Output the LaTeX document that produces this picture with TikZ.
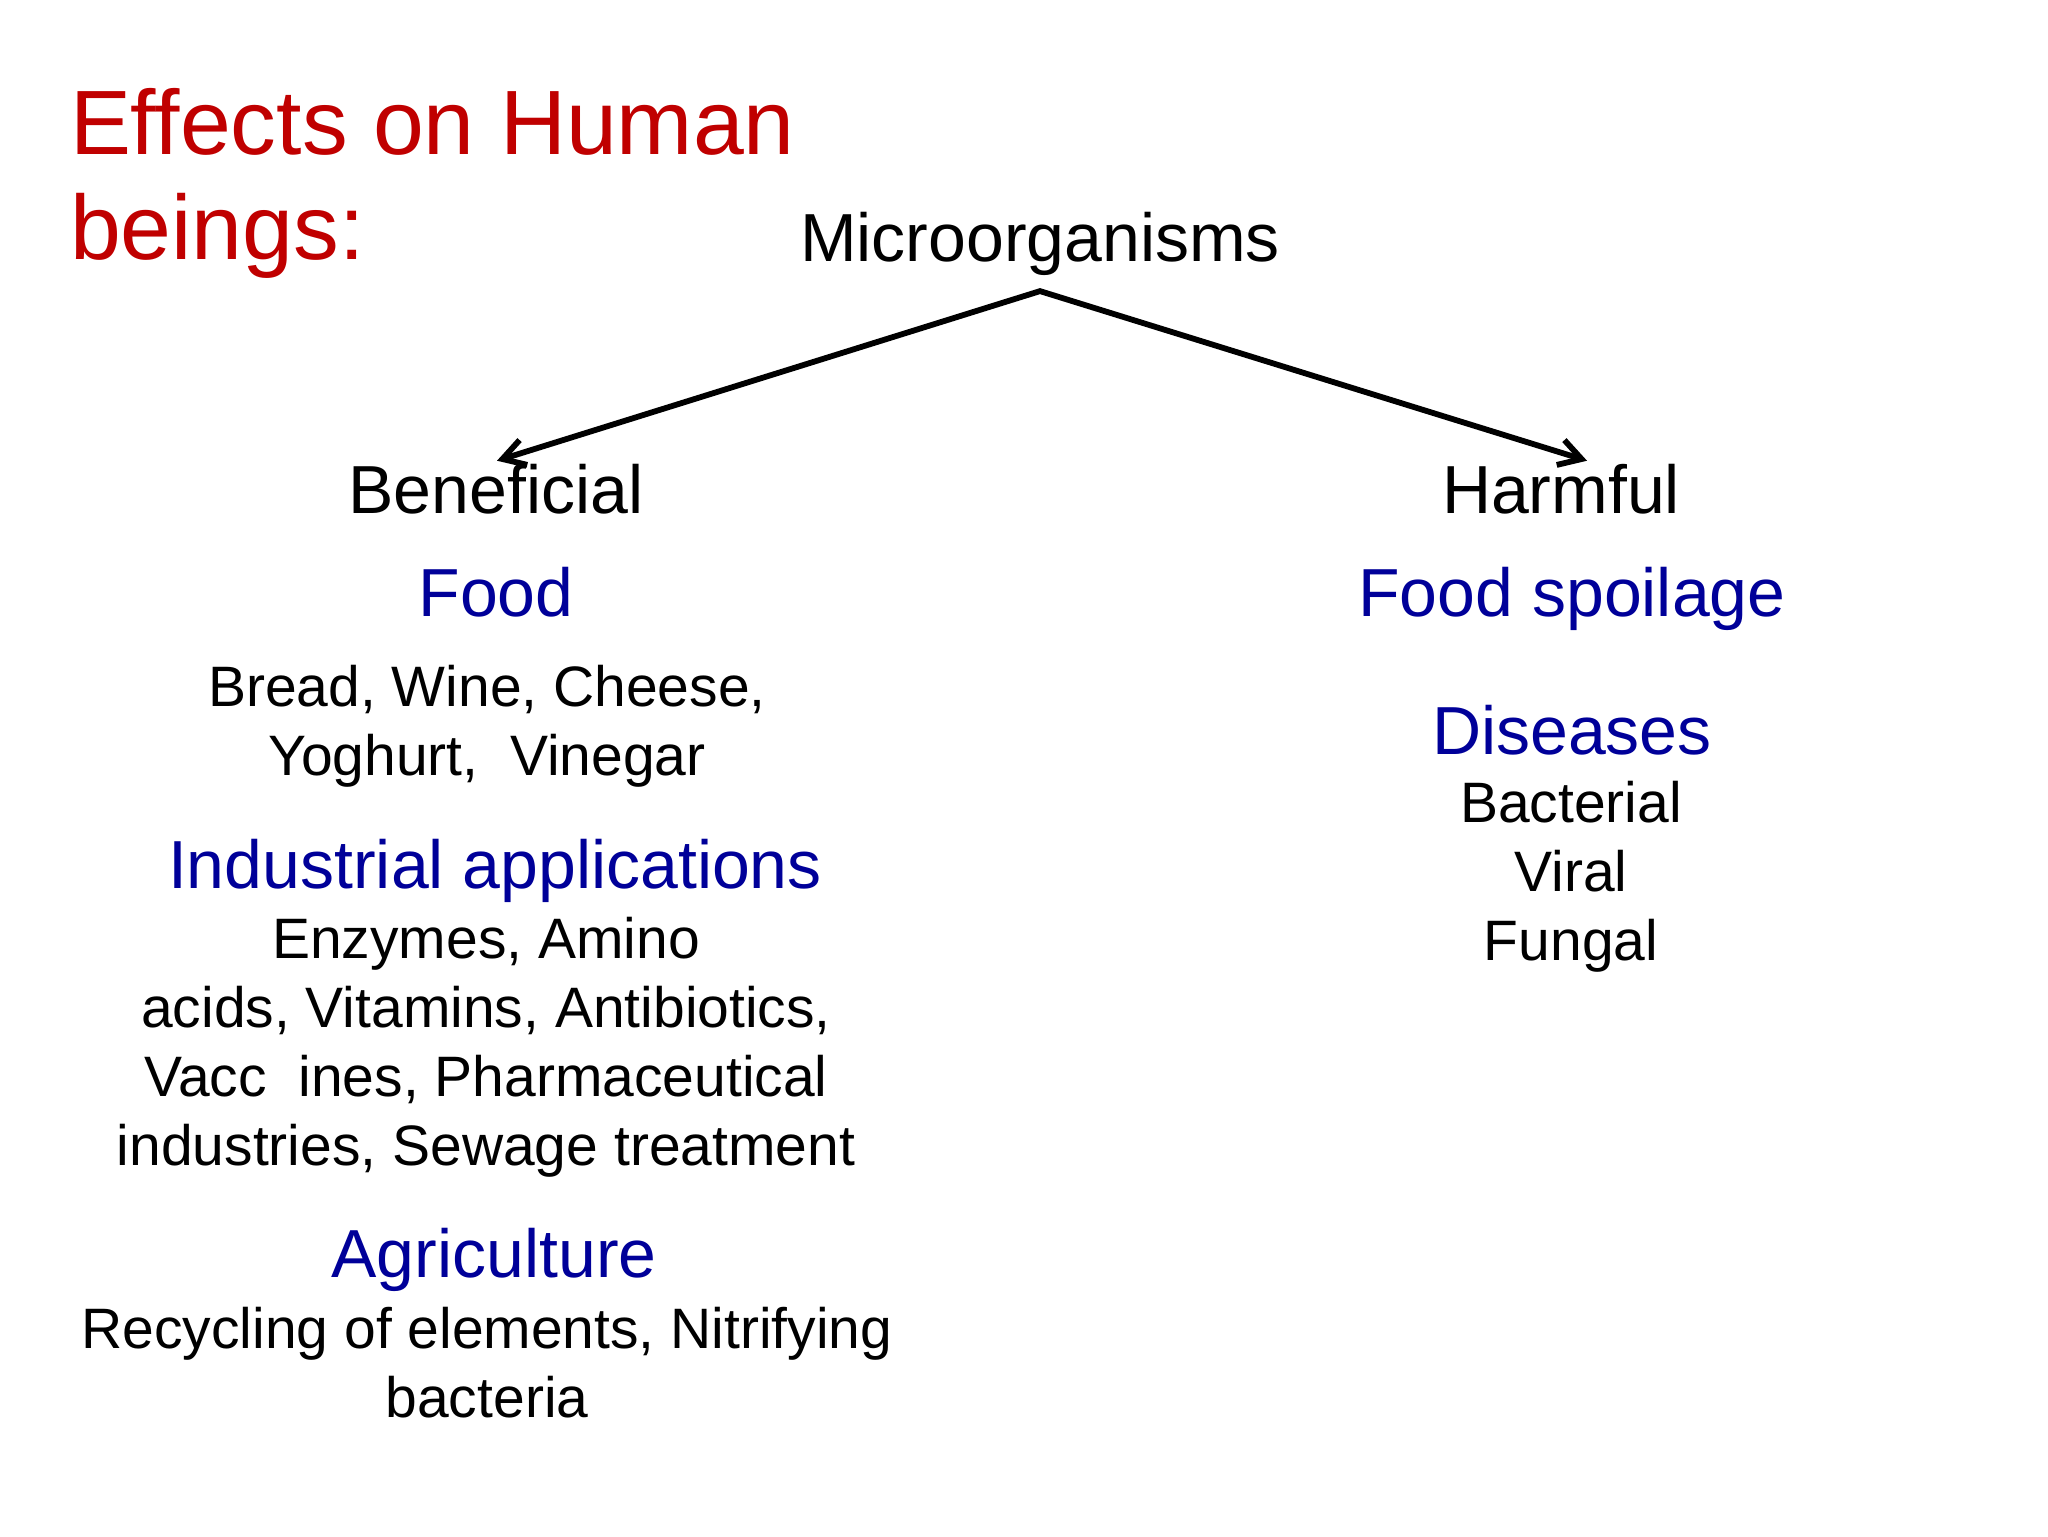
\documentclass[tikz,border=0pt]{standalone}
\usepackage{fontspec}
\setmainfont{Liberation Sans}
\usetikzlibrary{arrows.meta,calc}
\definecolor{titlered}{RGB}{192,0,0}
\definecolor{headblue}{RGB}{0,0,153}
\begin{document}
\begin{tikzpicture}[x=0.5pt,y=-0.5pt,
  every node/.style={inner sep=0pt,outer sep=0pt},
  titletext/.style={font=\fontsize{45.7}{52.5}\selectfont,text=titlered,align=left,anchor=base west},
  toptext/.style={font=\fontsize{34}{40}\selectfont,text=black,anchor=base},
  headtext/.style={font=\fontsize{34}{40}\selectfont,text=headblue,anchor=base},
  bodytext/.style={font=\fontsize{28.5}{34.4}\selectfont,text=black,align=center,anchor=base},
  mybarb/.tip={Straight Barb[length=11pt,width=13pt,line width=2.9pt]},
  arr/.style={line width=2.9pt,line join=miter,mybarb-mybarb}]
\useasboundingbox (0,0) rectangle (2048,1536);
\fill[white] (0,0) rectangle (2048,1536);
% title (anchor at baseline of last line)
\node[titletext] (title) at (70,259) {Effects on Human\\beings:};
% top node
\node[toptext] (micro) at (1040,261) {Microorganisms};
\node[toptext] (benef) at (496,513) {Beneficial};
\node[toptext] (harm) at (1561,513) {Harmful};
% connectors
\coordinate (apex) at ($(micro.south)+(0,16)$);
\draw[arr] ($(benef.north)+(1,-3)$) -- (apex) -- ($(harm.north)+(26,-3)$);
% left column
\node[headtext] (food) at (496,616) {Food};
\node[bodytext] (foodlist) at (487,775) {Bread, Wine, Cheese,\\Yoghurt,\ \ Vinegar};
\node[headtext] (indus) at (495,888) {Industrial applications};
\node[bodytext] (induslist) at (486,1165) {Enzymes, Amino\\acids, Vitamins, Antibiotics,\\Vacc\ \ ines, Pharmaceutical\\industries, Sewage treatment};
\node[headtext] (agri) at (494,1277) {Agriculture};
\node[bodytext] (agrilist) at (487,1417) {Recycling of elements, Nitrifying\\bacteria};
% right column
\node[headtext] (spoil) at (1572,616) {Food spoilage};
\node[headtext] (dis) at (1572,754) {Diseases};
\node[bodytext] (dislist) at (1571,960) {Bacterial\\Viral\\Fungal};
\end{tikzpicture}
\end{document}
